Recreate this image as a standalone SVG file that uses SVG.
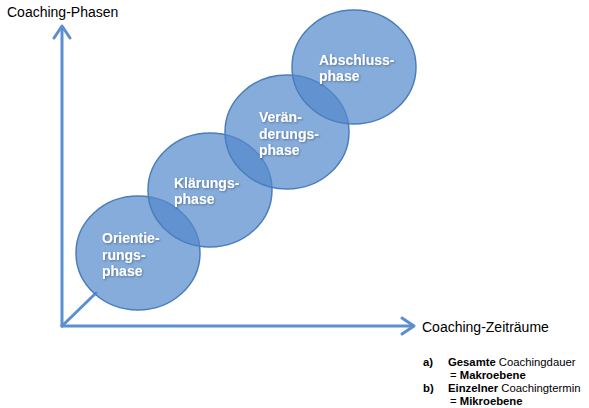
<svg xmlns="http://www.w3.org/2000/svg" width="589" height="408" viewBox="0 0 589 408">
<defs>
<filter id="sh" x="-10%" y="-20%" width="130%" height="150%">
<feDropShadow dx="1" dy="1" stdDeviation="0.8" flood-color="#000" flood-opacity="0.35"/>
</filter>
</defs>
<style>
.ax{stroke:#5b8fcf;stroke-width:3;fill:none;stroke-linecap:round;stroke-linejoin:round}
.c{fill:#5289cc;fill-opacity:0.7;stroke:#4a7ebb;stroke-width:1.5}
.lb{font-family:"Liberation Sans",Arial,sans-serif;font-weight:bold;font-size:14px;fill:#fff;filter:url(#sh)}
.t{font-family:"Liberation Sans",Arial,sans-serif;font-size:14px;fill:#000}
.s{font-family:"Liberation Sans",Arial,sans-serif;font-size:11.3px;fill:#000}
.b{font-weight:bold}
</style>
<rect width="589" height="408" fill="#fff"/>
<g id="connectors">
<path class="ax" d="M62,326 L62,27"/>
<path class="ax" d="M54,38 L62,26 L70,38"/>
<path class="ax" d="M62,326 L413,326"/>
<path class="ax" d="M402,318 L414,326 L402,334"/>
<path class="ax" d="M62,326 L96,293"/>
</g>
<g id="orientierung">
<ellipse class="c" cx="138" cy="253" rx="62" ry="57"/>
<text class="lb" x="102" y="243">Orientie-</text>
<text class="lb" x="102" y="260">rungs-</text>
<text class="lb" x="102" y="276">phase</text>
</g>
<g id="klaerung">
<ellipse class="c" cx="210" cy="190" rx="62" ry="57"/>
<text class="lb" x="174" y="188">Klärungs-</text>
<text class="lb" x="174" y="204">phase</text>
</g>
<g id="veraenderung">
<ellipse class="c" cx="287" cy="132" rx="62" ry="57"/>
<text class="lb" x="259" y="122">Verän-</text>
<text class="lb" x="259" y="139">derungs-</text>
<text class="lb" x="259" y="155">phase</text>
</g>
<g id="abschluss">
<ellipse class="c" cx="354" cy="67" rx="62" ry="57"/>
<text class="lb" x="319" y="65">Abschluss-</text>
<text class="lb" x="319" y="81">phase</text>
</g>
<g id="labels">
<text class="t" x="7" y="17">Coaching-Phasen</text>
<text class="t" x="422" y="332">Coaching-Zeiträume</text>
<text class="s b" x="423" y="366">a)</text>
<text class="s" x="448" y="366"><tspan class="b">Gesamte</tspan> Coachingdauer</text>
<text class="s" x="450" y="379">= <tspan class="b">Makroebene</tspan></text>
<text class="s b" x="423" y="392">b)</text>
<text class="s" x="448" y="392"><tspan class="b">Einzelner</tspan> Coachingtermin</text>
<text class="s" x="450" y="405">= <tspan class="b">Mikroebene</tspan></text>
</g>
</svg>
